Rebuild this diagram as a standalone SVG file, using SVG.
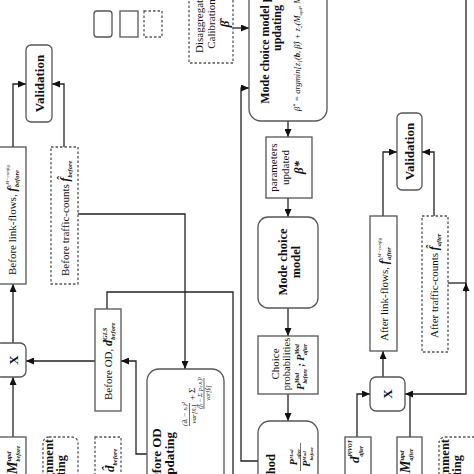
<svg xmlns="http://www.w3.org/2000/svg" width="474" height="474" viewBox="0 0 474 474">
<defs>
<marker id="ah" markerWidth="8" markerHeight="7" refX="8" refY="3.5" orient="auto" markerUnits="userSpaceOnUse"><path d="M0,0 L8,3.5 L0,7 z" fill="#111"/></marker>
</defs>
<style>
.bx{fill:#fff;stroke:#555;stroke-width:1.3}
.ds{fill:#fff;stroke:#555;stroke-width:1.3;stroke-dasharray:2.5,2}
.cn{fill:none;stroke:#222;stroke-width:1.3}
.bar{stroke:#111;stroke-width:0.6}
.t{font-family:"Liberation Serif","Times New Roman",serif;fill:#111}
.b{font-weight:bold}
.i{font-style:italic}
.m{font-style:italic;font-weight:bold}
</style>
<rect width="474" height="474" fill="#fff"/>

<g id="legend">
<rect class="bx" x="94" y="11" width="18" height="26" rx="3"/>
<rect class="bx" x="120" y="11" width="18" height="26"/>
<rect class="ds" x="144" y="11" width="18" height="26"/>
</g>

<g id="connectors">
<path class="cn" d="M13,147V84H26" marker-end="url(#ah)"/>
<path class="cn" d="M64,147V84H52" marker-end="url(#ah)"/>
<path class="cn" d="M13,343V284" marker-end="url(#ah)"/>
<path class="cn" d="M13,437V377" marker-end="url(#ah)"/>
<path class="cn" d="M95,361H26" marker-end="url(#ah)"/>
<path class="cn" d="M147,454H136V361H121" marker-end="url(#ah)"/>
<path class="cn" d="M107,309V292H233V480"/>
<path class="cn" d="M78,214H185V369" marker-end="url(#ah)"/>
<path class="cn" d="M233,28H249" marker-end="url(#ah)"/>
<path class="cn" d="M258,461H241V88H249" marker-end="url(#ah)"/>
<path class="cn" d="M288,121V137" marker-end="url(#ah)"/>
<path class="cn" d="M288,198V217" marker-end="url(#ah)"/>
<path class="cn" d="M288,308V336" marker-end="url(#ah)"/>
<path class="cn" d="M288,394V421" marker-end="url(#ah)"/>
<path class="cn" d="M383,216V152H397" marker-end="url(#ah)"/>
<path class="cn" d="M434,216V152H422" marker-end="url(#ah)"/>
<path class="cn" d="M383,377V351" marker-end="url(#ah)"/>
<path class="cn" d="M357,437V394H370" marker-end="url(#ah)"/>
<path class="cn" d="M410,437V394"/>
<path class="cn" d="M466,-5V394H405" marker-end="url(#ah)"/>
<path class="cn" d="M448,283H466"/>
<path class="cn" d="M466,292V283" marker-end="url(#ah)"/>
</g>

<g id="validation-before">
<rect class="bx" x="26" y="45" width="26" height="77" rx="5"/>
<text class="t b" font-size="13" text-anchor="middle" dominant-baseline="central" transform="translate(39,83.5) rotate(-90)">Validation</text>
</g>

<g id="linkflows-before">
<rect class="bx" x="-5" y="147" width="31" height="137"/>
<text class="t" font-size="11" transform="translate(16,275) rotate(-90)">Before link-flows, <tspan class="m" font-size="12">f</tspan><tspan class="i" font-size="6.5" dy="-5">s</tspan><tspan class="i" font-size="5" dy="-2">M</tspan><tspan class="i" font-size="5">−config</tspan><tspan class="m" font-size="6.5" dx="-22" dy="10">before</tspan></text>
</g>

<g id="trafficcounts-before">
<rect class="ds" x="51" y="147" width="27" height="137"/>
<text class="t" font-size="11" transform="translate(69,276) rotate(-90)">Before traffic-counts <tspan class="m" font-size="12">f̂</tspan><tspan class="m" font-size="6.5" dy="3">before</tspan></text>
</g>

<g id="od-before">
<rect class="bx" x="95" y="309" width="26" height="102"/>
<text class="t" font-size="11" transform="translate(112,400) rotate(-90)">Before OD, <tspan class="m" font-size="12">d</tspan><tspan class="m" font-size="6.5" dy="-5">GLS</tspan><tspan class="m" font-size="6.5" dx="-12" dy="8">before</tspan></text>
</g>

<g id="x-before">
<rect class="bx" x="-5" y="343" width="31" height="34" rx="6"/>
<text class="t b" font-size="13" text-anchor="middle" dominant-baseline="central" transform="translate(13,360) rotate(-90)">X</text>
</g>

<g id="m-before">
<rect class="bx" x="-5" y="437" width="31" height="45"/>
<text class="t m" font-size="14" transform="translate(17,474) rotate(-90)">M<tspan font-size="6.5" dy="-6">upd</tspan><tspan font-size="6" dx="-10" dy="9">before</tspan></text>
</g>

<g id="assign-before">
<rect class="ds" x="43" y="437" width="35" height="80" rx="6"/>
<text class="t b" font-size="12.5" text-anchor="end" transform="translate(53,439) rotate(-90)">Assignment</text>
<text class="t b" font-size="12.5" text-anchor="end" transform="translate(65,455) rotate(-90)">Routing</text>
</g>

<g id="d-before">
<rect class="ds" x="95" y="437" width="26" height="45"/>
<text class="t m" font-size="13" transform="translate(114,472) rotate(-90)">d̂<tspan font-size="6.5" dy="3">before</tspan></text>
</g>

<g id="odupdate-before">
<rect class="bx" x="147" y="369" width="77" height="140" rx="12"/>
<text class="t b" font-size="13" text-anchor="middle" transform="translate(161,458) rotate(-90)">Before OD</text>
<text class="t b" font-size="13" text-anchor="middle" transform="translate(174,458) rotate(-90)">Updating</text>
<text class="t i" font-size="7" text-anchor="middle" transform="translate(187,414) rotate(-90)">(d̂ᵢ − xᵢ)²</text>
<line class="bar" x1="189.5" y1="403" x2="189.5" y2="426"/>
<text class="t i" font-size="7" text-anchor="middle" transform="translate(196,414) rotate(-90)">var[x̂ᵢ]</text>
<text class="t" font-size="9" text-anchor="middle" transform="translate(195,394) rotate(-90)">+ Σ</text>
<text class="t i" font-size="6" text-anchor="middle" transform="translate(202,393) rotate(-90)">(f̂ₗ − Σᵢ pᵢₗ xᵢ)²</text>
<line class="bar" x1="204" y1="378" x2="204" y2="409"/>
<text class="t i" font-size="6" text-anchor="middle" transform="translate(210,393) rotate(-90)">var[f̂ₗ]</text>
</g>

<g id="disaggregate">
<rect class="ds" x="189" y="-10" width="44" height="73"/>
<text class="t" font-size="11" text-anchor="middle" transform="translate(203,24) rotate(-90)">Disaggregate</text>
<text class="t" font-size="11" text-anchor="middle" transform="translate(215,24) rotate(-90)">Calibration</text>
<text class="t m" font-size="13" text-anchor="middle" transform="translate(229,24) rotate(-90)">β̂</text>
</g>

<g id="mode-update">
<rect class="bx" x="249" y="-20" width="78" height="141" rx="12"/>
<text class="t b" font-size="12" text-anchor="middle" transform="translate(269,26) rotate(-90)">Mode choice model parameter</text>
<text class="t b" font-size="12" text-anchor="middle" transform="translate(281,28) rotate(-90)">updating</text>
<text class="t i" font-size="8.5" transform="translate(300,111) rotate(-90)">β<tspan font-size="6" dy="-3">*</tspan><tspan dy="3"> = argmin[z₁(</tspan><tspan class="b">b</tspan>, β̂) + z₂(M<tspan font-size="5" dy="2">upd</tspan><tspan dy="-2">, M(β))]</tspan></text>
</g>

<g id="params">
<rect class="bx" x="266" y="137" width="46" height="61"/>
<text class="t" font-size="11" text-anchor="middle" transform="translate(277,167.5) rotate(-90)">parameters</text>
<text class="t" font-size="11" text-anchor="middle" transform="translate(289,167.5) rotate(-90)">updated</text>
<text class="t m" font-size="13" text-anchor="middle" transform="translate(303,167.5) rotate(-90)">β*</text>
</g>

<g id="mode-model">
<rect class="bx" x="258" y="217" width="60" height="91" rx="10"/>
<text class="t b" font-size="12.5" text-anchor="middle" transform="translate(287,262) rotate(-90)">Mode choice</text>
<text class="t b" font-size="12.5" text-anchor="middle" transform="translate(300,262) rotate(-90)">model</text>
</g>

<g id="choice-prob">
<rect class="bx" x="258" y="336" width="60" height="58"/>
<text class="t" font-size="11" text-anchor="middle" transform="translate(279,364) rotate(-90)">Choice</text>
<text class="t" font-size="10.5" text-anchor="middle" transform="translate(290,364) rotate(-90)">probabilities</text>
<text class="t m" font-size="11" transform="translate(304,390) rotate(-90)">P<tspan font-size="5.5" dy="-5">Mod</tspan><tspan font-size="5.5" dx="-10.5" dy="8">before</tspan><tspan font-size="10" dy="-3"> ; P</tspan><tspan font-size="5.5" dy="-5">Mod</tspan><tspan font-size="5.5" dx="-10.5" dy="8">after</tspan></text>
</g>

<g id="method">
<rect class="bx" x="258" y="421" width="60" height="150" rx="12"/>
<text class="t b" font-size="12.5" text-anchor="end" transform="translate(275,454) rotate(-90)">Pivot point method</text>
<text class="t m" font-size="10" text-anchor="middle" transform="translate(297,457) rotate(-90)">P<tspan font-size="5" dy="-4">Mod</tspan><tspan font-size="5" dx="-9" dy="7">after</tspan></text>
<line class="bar" x1="300.5" y1="443" x2="300.5" y2="471"/>
<text class="t m" font-size="10" text-anchor="middle" transform="translate(310,457) rotate(-90)">P<tspan font-size="5" dy="-4">Mod</tspan><tspan font-size="5" dx="-9" dy="7">before</tspan></text>
</g>

<g id="validation-after">
<rect class="bx" x="397" y="113" width="25" height="77" rx="5"/>
<text class="t b" font-size="13" text-anchor="middle" dominant-baseline="central" transform="translate(409.5,151.5) rotate(-90)">Validation</text>
</g>

<g id="linkflows-after">
<rect class="bx" x="370" y="216" width="27" height="135"/>
<text class="t" font-size="11" transform="translate(388,341) rotate(-90)">After link-flows, <tspan class="m" font-size="12">f</tspan><tspan class="i" font-size="6.5" dy="-5">s</tspan><tspan class="i" font-size="5" dy="-2">M</tspan><tspan class="i" font-size="5">−config</tspan><tspan class="m" font-size="6.5" dx="-22" dy="10">after</tspan></text>
</g>

<g id="trafficcounts-after">
<rect class="ds" x="422" y="216" width="26" height="136"/>
<text class="t" font-size="11" transform="translate(438,338) rotate(-90)">After traffic-counts <tspan class="m" font-size="12">f̂</tspan><tspan class="m" font-size="6.5" dy="3">after</tspan></text>
</g>

<g id="x-after">
<rect class="bx" x="370" y="377" width="35" height="34" rx="6"/>
<text class="t b" font-size="13" text-anchor="middle" dominant-baseline="central" transform="translate(387.5,394) rotate(-90)">X</text>
</g>

<g id="pivot-after">
<rect class="bx" x="345" y="437" width="26" height="45"/>
<text class="t m" font-size="13" transform="translate(359,463) rotate(-90)">d<tspan font-size="5.5" dy="-7">PIVOT</tspan><tspan font-size="5.5" dx="-16" dy="11">after</tspan></text>
</g>

<g id="m-after">
<rect class="bx" x="397" y="437" width="25" height="45"/>
<text class="t m" font-size="14" transform="translate(410,473) rotate(-90)">M<tspan font-size="6.5" dy="-6">upd</tspan><tspan font-size="6" dx="-10" dy="9">after</tspan></text>
</g>

<g id="assign-after">
<rect class="ds" x="439" y="437" width="45" height="80" rx="6"/>
<text class="t b" font-size="12.5" text-anchor="end" transform="translate(449,439) rotate(-90)">Assignment</text>
<text class="t b" font-size="12.5" text-anchor="end" transform="translate(461,455) rotate(-90)">Routing</text>
</g>
</svg>
